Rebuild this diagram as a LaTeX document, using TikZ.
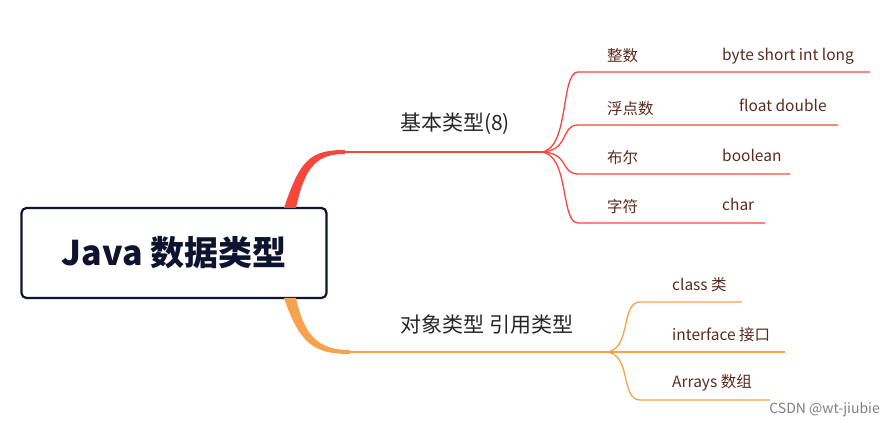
\documentclass[tikz,border=0pt]{standalone}
\usepackage{fontspec}
\setmainfont{Noto Sans CJK SC}
\begin{document}
\begin{tikzpicture}[x=1pt,y=-1pt,
  leaf/.style={anchor=west,font=\fontsize{15.5}{17}\selectfont,text=leafc,inner sep=0},
  mid/.style={font=\fontsize{21}{24}\selectfont,text=black!85,inner sep=0}]
\definecolor{redc}{HTML}{F5473C}
\definecolor{orc}{HTML}{F6A24E}
\definecolor{leafc}{HTML}{5A2A1E}
\definecolor{navy}{HTML}{0E1330}
\useasboundingbox (0,0) rectangle (895,427);
\node[draw=navy,line width=2.2pt,rounded corners=5pt,minimum width=305pt,minimum height=90pt,font=\fontsize{34}{38}\selectfont\bfseries,text=navy] (root) at (174,253) {Java 数据类型};
% branch 1
\coordinate (b1s) at (345,152);
\coordinate (b1) at (540,152);
\fill[redc] (284,208) .. controls (300,160) and (310,150) .. (345,150) -- (345,154) .. controls (318,154) and (305,165) .. (296,208) -- cycle;
\draw[redc,line width=1.6pt] (b1s) -- (b1);
\node[mid] (n1) at (455,124) {基本类型(8)};
\foreach \y/\e/\a/\nm in {72/870/整数/a,125/838/浮点数/b,174/790/布尔/c,223/765/字符/d}{
  \coordinate (s\nm) at (578,\y);
  \coordinate (e\nm) at (\e,\y);
  \draw[redc,line width=1.3pt] (b1) .. controls (570,152) and (560,\y) .. (s\nm) -- (e\nm);
  \node[leaf] (l\nm) at (607,\y-16) {\a};
}
\node[leaf] (ra) at (722,56) {byte short int long};
\node[leaf] (rb) at (739,105) {float double};
\node[leaf] (rc) at (722,155) {boolean};
\node[leaf] (rd) at (722,204) {char};
% branch 2
\coordinate (b2s) at (350,352);
\coordinate (b2) at (605,352);
\fill[orc] (284,298) .. controls (300,345) and (315,354) .. (350,354) -- (350,350) .. controls (322,350) and (305,340) .. (296,298) -- cycle;
\draw[orc,line width=1.6pt] (b2s) -- (b2);
\node[mid] (n2) at (487,325) {对象类型 引用类型};
\foreach \y/\e/\a/\nm in {302/742/class 类/f,352/785/interface 接口/g,400/770/Arrays 数组/h}{
  \coordinate (s\nm) at (640,\y);
  \coordinate (e\nm) at (\e,\y);
  \draw[orc,line width=1.3pt] (b2) .. controls (632,352) and (620,\y) .. (s\nm) -- (e\nm);
  \node[leaf] (l\nm) at (672,\y-17) {\a};
}
\node[anchor=east,font=\fontsize{14}{16}\selectfont,text=gray,inner sep=0] (wm) at (880,410) {CSDN @wt-jiubie};
\end{tikzpicture}
\end{document}
